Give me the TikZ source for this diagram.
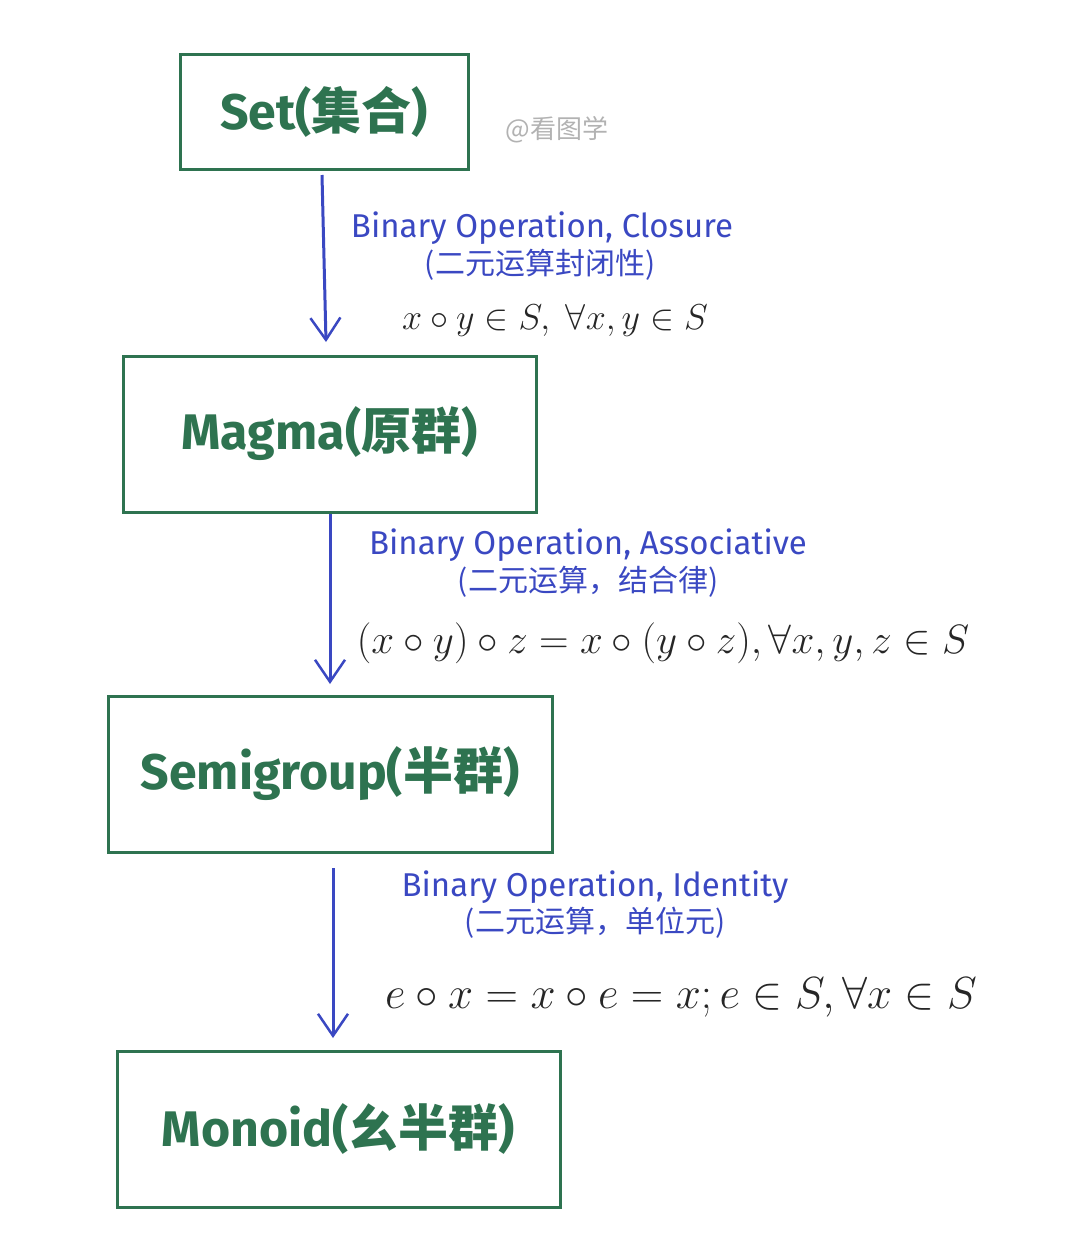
\documentclass[tikz,border=0pt]{standalone}
\usepackage{fix-cm}
\usepackage{fontspec}
\setmainfont{Fira Sans}
\newfontfamily\cjk{Noto Sans CJK SC}
\usetikzlibrary{arrows.meta}
\definecolor{gr}{HTML}{2E7350}
\definecolor{bl}{HTML}{3A48C2}
\begin{document}
\begin{tikzpicture}[x=1pt,y=-1pt,
  box/.style={draw=gr,line width=3pt,text=gr,font=\bfseries\fontsize{50}{54}\selectfont,inner sep=0pt},
  lbl/.style={text=bl,font=\fontsize{33}{36}\selectfont},
  cl/.style={text=bl,font=\cjk\fontsize{30}{34}\selectfont},
  mth/.style={text=black!85},
  arr/.style={draw=bl,line width=3pt,-{Straight Barb[length=22pt,width=30pt,line width=2.5pt]}}]
\useasboundingbox (0,0) rectangle (1080,1237);
\node[box,minimum width=288pt,minimum height=115pt] (set) at (324,112) {Set({\cjk 集合})};
\node[box,minimum width=413pt,minimum height=156pt] (magma) at (329.5,434) {Magma({\cjk 原群})};
\node[box,minimum width=444pt,minimum height=156pt] (semi) at (330,774) {Semigroup({\cjk 半群})};
\node[box,minimum width=443pt,minimum height=156pt] (mono) at (338.5,1129) {Monoid({\cjk 幺半群})};
\node[text=black!30,font=\cjk\fontsize{26}{28}\selectfont] (wm) at (557,130) {@看图学};
\coordinate (a1s) at (322,175); \coordinate (a1e) at (326,342);
\coordinate (a2s) at (330,514); \coordinate (a2e) at (330,684);
\coordinate (a3s) at (333,868); \coordinate (a3e) at (333,1038);
\draw[arr] (a1s) -- (a1e);
\draw[arr] (a2s) -- (a2e);
\draw[arr] (a3s) -- (a3e);
\node[lbl] (l1) at (542,228) {Binary Operation, Closure};
\node[cl] (c1) at (540,265) {(二元运算封闭性)};
\node[mth,font=\fontsize{36}{40}\selectfont] (m1) at (555,320) {$x\circ y\in S,\ \forall x,y\in S$};
\node[lbl] (l2) at (588,545) {Binary Operation, Associative};
\node[cl] (c2) at (588,582) {(二元运算，结合律)};
\node[mth,font=\fontsize{41}{45}\selectfont] (m2) at (663,643) {$(x\circ y)\circ z=x\circ(y\circ z),\forall x,y,z\in S$};
\node[lbl] (l3) at (595,887) {Binary Operation, Identity};
\node[cl] (c3) at (595,923) {(二元运算，单位元)};
\node[mth,font=\fontsize{45}{49}\selectfont] (m3) at (681,997) {$e\circ x=x\circ e=x;e\in S,\forall x\in S$};
\end{tikzpicture}
\end{document}
